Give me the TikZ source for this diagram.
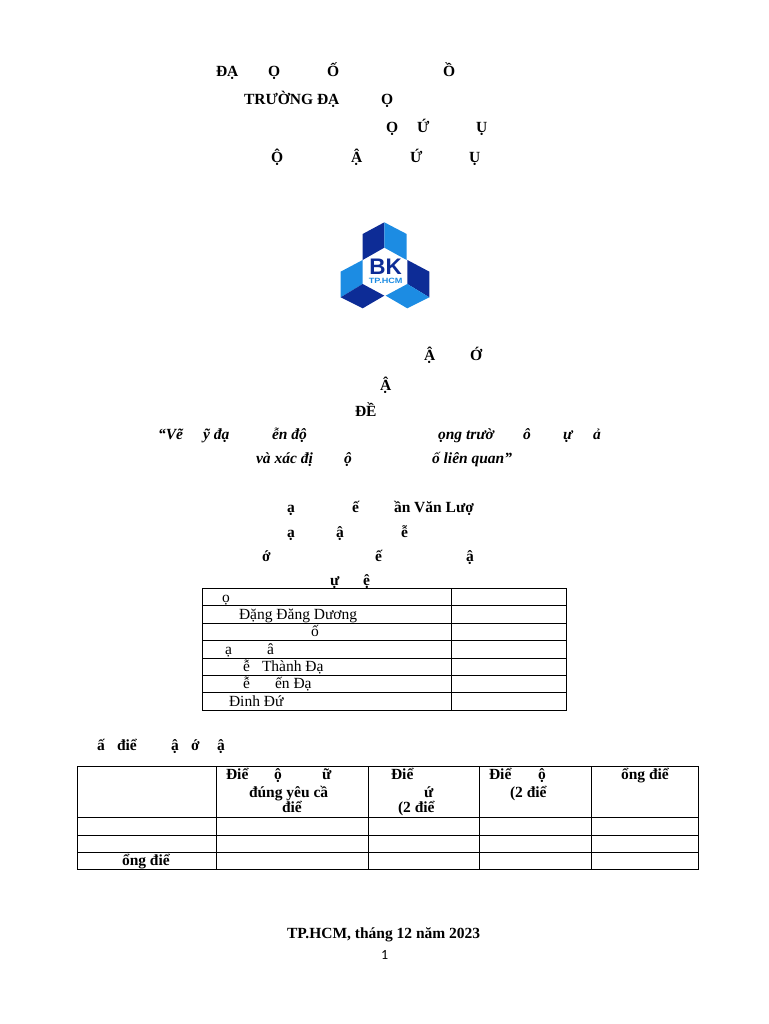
\documentclass[tikz,border=0pt]{standalone}
\usepackage{fontspec}
\setmainfont{Liberation Serif}
\newfontfamily\logofont{Liberation Sans}
\newfontfamily\logowide[FakeStretch=1.2]{Liberation Sans}
\newfontfamily\pagefont{Carlito}
\definecolor{bkdark}{HTML}{0D2C96}
\definecolor{bklight}{HTML}{1C8CE3}
\tikzset{
  base/.style={inner sep=0pt,outer sep=0pt,anchor=base west,font=\fontsize{15.5}{18}\selectfont,text=black},
  tb/.style={base,font=\fontsize{15.5}{18}\selectfont\bfseries},
  tr/.style={base},
  ti/.style={base,font=\fontsize{15.5}{18}\selectfont\bfseries\itshape},
  rule/.style={draw=black,line width=1pt},
}
\begin{document}
\begin{tikzpicture}[x=1pt,y=-1pt]
\useasboundingbox[fill=white] (0,0) rectangle (768,1024);
% heading
\node[tb] (a1) at (216,77) {ĐẠ};
\node[tb] (a2) at (268,77) {Ọ};
\node[tb] (a3) at (327,77) {Ố};
\node[tb] (a4) at (443,77) {Ồ};
\node[tb] (b1) at (244,105) {TRƯỜNG ĐẠ};
\node[tb] (b2) at (381,105) {Ọ};
\node[tb] (c1) at (386,133) {Ọ};
\node[tb] (c2) at (417,133) {Ứ};
\node[tb] (c3) at (476,133) {Ụ};
\node[tb] (d1) at (271,163) {Ộ};
\node[tb] (d2) at (351,163) {Ậ};
\node[tb] (d3) at (410,163) {Ứ};
\node[tb] (d4) at (469,163) {Ụ};
% logo
\begin{scope}[shift={(320,210)},x=0.3333pt,y=-0.3333pt]
\fill[bkdark] (193,37)--(128,72)--(128,150)--(193,113)--cycle;
\fill[bklight] (193,37)--(260,72)--(260,150)--(193,113)--cycle;
\fill[bklight] (128,150)--(62,185)--(62,262)--(128,222)--cycle;
\fill[bkdark] (62,262)--(128,295)--(193,257)--(128,222)--cycle;
\fill[bkdark] (262,150)--(328,185)--(328,262)--(262,222)--cycle;
\fill[bklight] (328,262)--(262,295)--(197,257)--(262,222)--cycle;
\node[inner sep=0pt,anchor=base,text=bkdark,font=\logofont\fontsize{22.5}{23}\selectfont\bfseries] (bk) at (197,195) {BK};
\node[inner sep=0pt,anchor=base,text=bklight,font=\logowide\fontsize{7.6}{8}\selectfont\bfseries] (hcm) at (197,222) {TP.HCM};
\end{scope}
% title
\node[tb] (e1) at (424,360) {Ậ};
\node[tb] (e2) at (470,360) {Ớ};
\node[tb] (f1) at (380,390) {Ậ};
\node[tb] (g1) at (355,416) {ĐỀ};
\node[ti] (h1) at (158,439) {“Vẽ};
\node[ti] (h2) at (203,439) {ỹ đạ};
\node[ti] (h3) at (272,439) {ễn độ};
\node[ti] (h4) at (438,439) {ọng trườ};
\node[ti] (h5) at (523,439) {ô};
\node[ti] (h6) at (563,439) {ự};
\node[ti] (h7) at (593,439) {ả};
\node[ti] (i1) at (256,463) {và xác đị};
\node[ti] (i2) at (344,463) {ộ};
\node[ti] (i3) at (432,463) {ố liên quan”};
% staff
\node[tb] (j1) at (287,512) {ạ};
\node[tb] (j2) at (352,512) {ế};
\node[tb] (j3) at (394,512) {ần Văn Lượ};
\node[tb] (k1) at (287,537) {ạ};
\node[tb] (k2) at (336,537) {ậ};
\node[tb] (k3) at (401,537) {ễ};
\node[tb] (l1) at (262,561) {ớ};
\node[tb] (l2) at (375,561) {ế};
\node[tb] (l3) at (466,561) {ậ};
\node[tb] (m1) at (330,585) {ự};
\node[tb] (m2) at (363,585) {ệ};
% members table
\draw[rule] (202.5,588.5) rectangle (566.5,710);
\draw[rule] (451.5,588.5) -- (451.5,710);
\foreach \yy in {605.5,623,640.5,658,675.5,692.5} \draw[rule] (202.5,\yy) -- (566.5,\yy);
\node[tr] (n1) at (222,602) {ọ};
\node[tr] (n2) at (239,619) {Đặng Đăng Dương};
\node[tr] (n3) at (311,636) {ố};
\node[tr] (n4) at (225,654) {ạ};
\node[tr] (n5) at (267,654) {â};
\node[tr] (n6) at (243,671) {ễ};
\node[tr] (n7) at (262,671) {Thành Đạ};
\node[tr] (n8) at (243,688) {ễ};
\node[tr] (n9) at (275,688) {ến Đạ};
\node[tr] (n10) at (229,706) {Đinh Đứ};
% score caption
\node[tb] (o1) at (97,750) {ấ};
\node[tb] (o2) at (117,750) {điể};
\node[tb] (o3) at (171,750) {ậ};
\node[tb] (o4) at (191,750) {ớ};
\node[tb] (o5) at (217,750) {ậ};
% score table
\draw[rule] (77.5,766.5) rectangle (698,869.5);
\foreach \xx in {216.5,368.5,479.5,591.5} \draw[rule] (\xx,766.5) -- (\xx,869.5);
\foreach \yy in {817,835,852} \draw[rule] (77.5,\yy) -- (698,\yy);
\node[tb] (p1) at (226,779) {Điể};
\node[tb] (p2) at (274,779) {ộ};
\node[tb] (p3) at (322,779) {ữ};
\node[tb] (p4) at (249,797) {đúng yêu cầ};
\node[tb] (p5) at (282,812) {điể};
\node[tb] (q1) at (391,779) {Điể};
\node[tb] (q2) at (424,797) {ứ};
\node[tb] (q3) at (398,812) {(2 điể};
\node[tb] (r1) at (489,779) {Điể};
\node[tb] (r2) at (538,779) {ộ};
\node[tb] (r3) at (510,797) {(2 điể};
\node[tb] (s1) at (621,779) {ổng điể};
\node[tb] (t1) at (122,865) {ổng điể};
% footer
\node[tb] (u1) at (287,938) {TP.HCM, tháng 12 năm 2023};
\node[base,font=\pagefont\fontsize{14}{16}\selectfont] (u2) at (381,959) {1};
\end{tikzpicture}
\end{document}
